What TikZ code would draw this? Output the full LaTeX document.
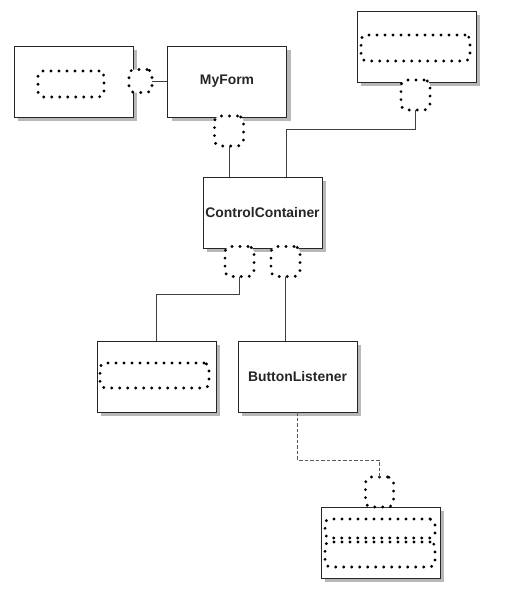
\documentclass[tikz,border=0pt]{standalone}
\usepackage{fontspec}
\setmainfont{Liberation Sans}
\usetikzlibrary{shadows}
\begin{document}
\begin{tikzpicture}[x=1pt,y=-1pt,
  box/.style={draw=black!85, line width=0.9pt, fill=white, rectangle,
    minimum width=119pt, minimum height=71pt, inner sep=0pt,
    drop shadow={shadow xshift=4pt, shadow yshift=-4pt, fill=black!28, opacity=1},
    font=\fontsize{13.9}{16}\selectfont\bfseries, text=black!85},
  dots/.style={draw=black, line width=3.2pt, dash pattern=on 0pt off 8pt, line cap=round},
  port/.style={dots, fill=white, rectangle, rounded corners=6pt,
    minimum width=29pt, minimum height=30pt, inner sep=0pt, outer sep=0pt},
  slot/.style={dots, rectangle, rounded corners=5pt, inner sep=0pt},
  link/.style={draw=black!75, line width=1pt},
  dlink/.style={draw=black!65, line width=1pt, dash pattern=on 3.5pt off 2pt}
]
\useasboundingbox (0,0) rectangle (506,605);

% boxes
\node[box] (L1) at (73.5,81.5) {};
\node[box] (MF) at (227,81.5) {MyForm};
\node[box] (TR) at (416.5,46.5) {};
\node[box] (CC) at (262.5,212.5) {ControlContainer};
\node[box] (LL) at (156.5,376.5) {};
\node[box] (BL) at (297.5,376.5) {ButtonListener};
\node[box] (BT) at (380.5,542.5) {};

% inner dotted slots
\node[slot, minimum width=66pt, minimum height=26pt] (s1) at (71,84) {};
\node[slot, minimum width=109pt, minimum height=26pt] (s2) at (415.5,48) {};
\node[slot, minimum width=109pt, minimum height=25pt] (s3) at (154.5,375.5) {};
\node[slot, minimum width=110pt, minimum height=19pt] (s4) at (380,528.5) {};
\node[slot, minimum width=110pt, minimum height=25pt] (s5) at (380,554.5) {};

% ports
\node[port, minimum width=23pt, minimum height=23pt, rounded corners=5pt] (pL) at (140.5,81) {};
\node[port] (pMF) at (229,131) {};
\node[port] (pTR) at (415.5,95) {};
\node[port] (pCA) at (239.5,261.5) {};
\node[port] (pCB) at (285.5,261.5) {};
\node[port, minimum width=28pt] (pBT) at (379.5,492) {};

% junction points
\coordinate (j1) at (286,129);
\coordinate (j2) at (156.5,294);
\coordinate (j3) at (297.5,460);

% connectors
\draw[link] (pL.east) -- (MF.west |- pL.east);
\draw[link] (pMF.south) -- (pMF.south |- CC.north);
\draw[link] (pTR.south) |- (j1) -- (j1 |- CC.north);
\draw[link] (pCA.south) |- (j2) -- (j2 |- LL.north);
\draw[link] (pCB.south) -- (pCB.south |- BL.north);
\draw[dlink] (BL.south) -- (j3) -| (pBT.north);
\end{tikzpicture}
\end{document}
